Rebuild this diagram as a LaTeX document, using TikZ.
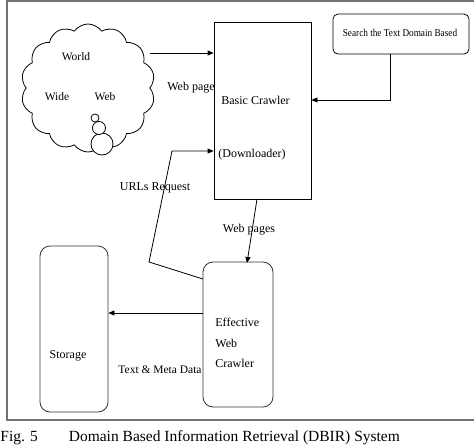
\documentclass[tikz,border=0pt]{standalone}
\usepackage{fontspec}
\setmainfont{Liberation Serif}
\usetikzlibrary{arrows.meta,shapes.symbols}
\begin{document}
\begin{tikzpicture}[x=1pt,y=-1pt,
  line width=0.8pt,
  arr/.style={-{Triangle[length=6pt,width=5pt]}},
  lbl/.style={inner sep=0pt,font=\fontsize{12}{14}\selectfont},
  rbox/.style={draw=black!80,rounded corners=10pt,inner sep=0pt}]
\useasboundingbox (0,0) rectangle (474,445);
% outer frame
\draw[draw=black!55,line width=1.6pt] (7,1) rectangle (478,420);
% cloud
\node[cloud,draw,cloud puffs=14,cloud puff arc=110,aspect=1.05,
      minimum width=134pt,minimum height=128pt,inner sep=0pt] (cloud) at (88,88) {};
\node[lbl,font=\fontsize{11.5}{14}\selectfont] (tw1) at (76,57) {World};
\node[lbl,font=\fontsize{11.5}{14}\selectfont] (tw2) at (57,97) {Wide};
\node[lbl,font=\fontsize{11.5}{14}\selectfont] (tw3) at (105,97) {Web};
\draw[fill=white] (102,144) circle (11);
\draw[fill=white] (99,128) circle (6.5);
\draw[fill=white] (95,118) circle (4);
% basic crawler
\node[draw,minimum width=97pt,minimum height=177pt,inner sep=0pt] (basic) at (262.5,110.5) {};
\node[lbl,anchor=west] (bc1) at (221,100) {Basic Crawler};
\node[lbl,anchor=west] (bc2) at (218,155) {(Downloader)};
% search box
\node[draw,rounded corners=5pt,minimum width=136pt,minimum height=40pt,inner sep=0pt] (search) at (401,34) {};
\node[inner sep=0pt,font=\fontsize{10.5}{12}\selectfont,xscale=0.88] (st) at (400,33) {Search the Text Domain Based};
% effective crawler
\node[rbox,minimum width=70pt,minimum height=145pt] (eff) at (238,334.5) {};
\node[lbl,anchor=west,align=left,font=\fontsize{12}{20.5}\selectfont] (et) at (215,343) {Effective\\Web\\Crawler};
% storage
\node[rbox,minimum width=68pt,minimum height=166pt] (stor) at (74,329) {};
\node[lbl] (sl) at (68,356) {Storage};
% connectors
\coordinate (c1) at (150,53);
\draw[arr] (c1) -- (basic.west |- c1);
\node[lbl] (wp) at (191,88) {Web page};
\coordinate (s1) at (390,100);
\draw[arr] (search.south -| s1) -- (s1) -- (basic.east |- s1);
\coordinate (u1) at (149,262);
\coordinate (u2) at (172,151);
\draw[arr] (203,279) -- (u1) -- (u2) -- (basic.west |- u2);
\node[lbl] (ur) at (155,188) {URLs Request};
\draw[arr] (257,199) -- (247,263);
\node[lbl] (wps) at (249,230) {Web pages};
\coordinate (t1) at (203,313);
\draw[arr] (t1) -- (stor.east |- t1);
\node[lbl,font=\fontsize{11.5}{14}\selectfont] (tm) at (160,370) {Text \& Meta Data};
% caption
\node[inner sep=0pt,anchor=base west,font=\fontsize{15.5}{17}\selectfont] (cap) at (0,441) {Fig. 5\hspace{31pt}Domain Based Information Retrieval (DBIR) System};
\end{tikzpicture}
\end{document}
